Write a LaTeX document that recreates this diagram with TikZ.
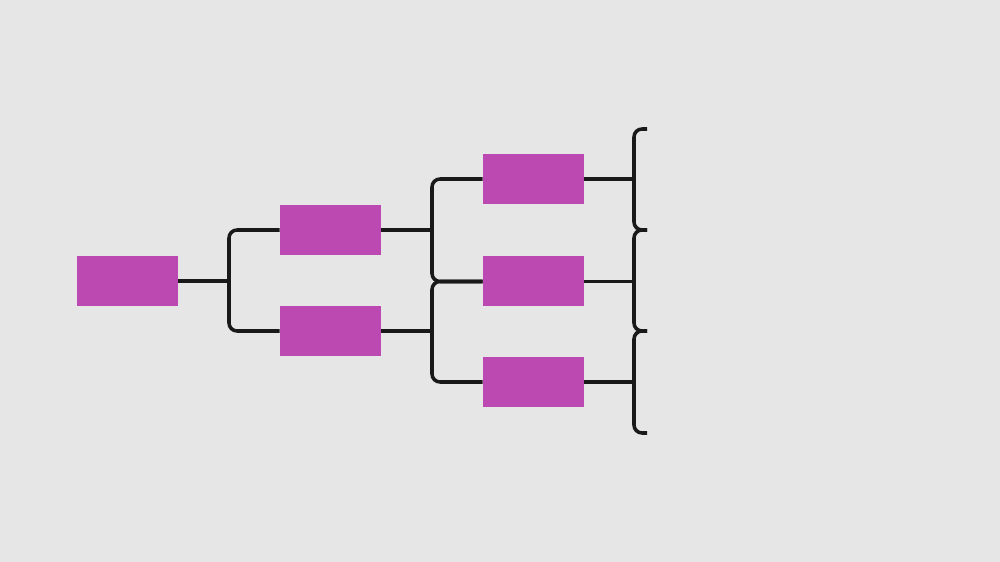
\documentclass[tikz,border=0pt]{standalone}
\usetikzlibrary{positioning}
\definecolor{boxpink}{RGB}{188,73,178}
\definecolor{paper}{RGB}{230,230,230}
\tikzset{
  box/.style={fill=boxpink,minimum width=2.02cm,minimum height=1cm,inner sep=0pt},
  wire/.style={line width=2pt,black!90},
  elbow/.style={wire,rounded corners=0.16cm}
}
\begin{document}
\begin{tikzpicture}
  \fill[paper] (0,0) rectangle (20,-11.24);
  \useasboundingbox (0,0) rectangle (20,-11.24);
  % boxes
  \node[box](A) at (2.55,-5.62) {};
  \node[box](B1) at (6.61,-4.6) {};
  \node[box](B2) at (6.61,-6.62) {};
  \node[box](C1) at (10.67,-3.58) {};
  \node[box](C2) at (10.67,-5.63) {};
  \node[box](C3) at (10.67,-7.64) {};
  % junctions
  \coordinate(j1) at (4.58,-5.62);
  \coordinate(j2) at (8.64,-4.6);
  \coordinate(j3) at (8.64,-6.62);
  % bracket
  \coordinate(m0) at (12.68,-2.58);
  \coordinate(m1) at (12.68,-4.6);
  \coordinate(m2) at (12.68,-6.62);
  \coordinate(m3) at (12.68,-8.66);
  \coordinate(b0) at (12.94,-2.58);
  \coordinate(b1) at (12.94,-4.6);
  \coordinate(b2) at (12.94,-6.62);
  \coordinate(b3) at (12.94,-8.66);
  \draw[wire] (A) -- (j1);
  \draw[elbow] (B1.west) -| (j1) |- (B2.west);
  \draw[wire] (B1) -- (j2);
  \draw[elbow] (C1.west) -| (j2) |- (C2.west);
  \draw[wire] (B2) -- (j3);
  \draw[elbow] (C2.west) -| (j3) |- (C3.west);
  \draw[wire] (C1) -- (C1 -| m0);
  \draw[wire] (C2) -- (C2 -| m0);
  \draw[wire] (C3) -- (C3 -| m0);
  \draw[elbow] (b0) -| (m1) -- (b1);
  \draw[elbow] (b1) -| (m2) -- (b2);
  \draw[elbow] (b2) -| (m3) -- (b3);
\end{tikzpicture}
\end{document}
